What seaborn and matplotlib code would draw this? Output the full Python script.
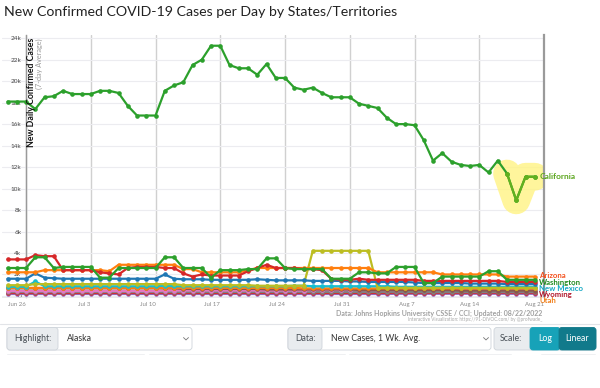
import numpy as np
import pandas as pd
import matplotlib
matplotlib.use('Agg')
import matplotlib.pyplot as plt
import matplotlib.dates as mdates
from matplotlib.patches import FancyBboxPatch
from matplotlib.lines import Line2D
from matplotlib.transforms import ScaledTranslation
import seaborn as sns

# 7-day average of new confirmed cases, in thousands, one value per day Jun 24 .. Aug 20 2022
dates = pd.date_range('2022-06-24', '2022-08-20', freq='D')

california = [18.1, 18.1, 18.1, 17.4, 18.5, 18.6, 19.1,
              18.8, 18.8, 18.8, 19.1, 19.1, 18.9, 17.7,
              16.8, 16.8, 16.8, 19.1, 19.6, 19.9, 21.5,
              22.0, 23.3, 23.3, 21.5, 21.2, 21.2, 20.6,
              21.6, 20.3, 20.3, 19.4, 19.2, 19.4, 18.9,
              18.5, 18.5, 18.5, 17.9, 17.7, 17.5, 16.6,
              16.0, 16.0, 15.9, 14.5, 12.6, 13.3, 12.5,
              12.2, 12.1, 12.2, 11.5, 12.6, 11.4, 8.9,
              11.1, 11.1]
colorado = [3.4, 3.4, 3.4, 3.8, 3.7, 3.7, 2.4,
            2.4, 2.4, 2.4, 2.2, 2.1, 2.0, 2.6,
            2.7, 2.7, 2.7, 2.6, 2.6, 2.1, 1.8,
            2.0, 1.9, 1.9, 1.9, 1.9, 2.3, 2.6,
            2.9, 2.6, 2.6, 2.6, 2.5, 2.5, 2.4,
            1.6, 1.5, 1.5, 1.6, 1.5, 1.5, 1.5,
            1.5, 1.5, 1.5, 1.4, 1.4, 1.4, 1.4,
            1.4, 1.4, 1.4, 1.4, 1.4, 1.3, 1.3,
            1.3, 1.3]
washington = [2.6, 2.6, 2.6, 3.6, 3.6, 2.6, 2.7,
              2.7, 2.7, 2.7, 1.7, 1.7, 2.6, 2.6,
              2.6, 2.6, 2.6, 3.6, 3.6, 2.6, 2.6,
              2.6, 1.7, 2.4, 2.4, 2.4, 2.5, 2.5,
              3.5, 3.5, 2.6, 2.5, 2.5, 2.5, 2.5,
              1.6, 1.6, 1.6, 2.2, 2.2, 2.1, 2.1,
              2.7, 2.7, 2.7, 1.2, 1.2, 1.8, 1.8,
              1.8, 1.8, 1.8, 2.3, 2.3, 1.5, 1.5,
              1.5, 1.5]
arizona = [2.2, 2.2, 2.2, 2.2, 2.4, 2.4, 2.4,
           2.4, 2.4, 2.4, 2.4, 2.3, 2.9, 2.9,
           2.9, 2.9, 2.9, 2.9, 2.9, 2.5, 2.5,
           2.2, 2.2, 2.2, 2.2, 2.2, 2.4, 2.6,
           2.6, 2.6, 2.6, 2.6, 2.6, 2.6, 2.6,
           2.6, 2.6, 2.6, 2.6, 2.6, 2.2, 2.2,
           2.2, 2.2, 2.2, 2.2, 2.2, 2.0, 2.0,
           2.0, 2.0, 2.0, 2.0, 2.0, 1.8, 1.8,
           1.8, 1.8]
oregon = [1.6, 1.6, 1.6, 2.1, 1.7, 1.65, 1.6,
          1.6, 1.6, 1.6, 1.6, 1.6, 1.6, 1.6,
          1.6, 1.6, 1.6, 2.0, 1.6, 1.55, 1.55,
          1.55, 1.5, 1.5, 1.5, 1.5, 1.5, 1.55,
          1.5, 1.45, 1.45, 1.45, 1.45, 1.4, 1.4,
          1.4, 1.4, 1.35, 1.35, 1.3, 1.3, 1.3,
          1.3, 1.3, 1.25, 1.2, 1.2, 1.2, 1.2,
          1.2, 1.15, 1.15, 1.15, 1.15, 1.1, 1.1,
          1.1, 1.1]
hawaii = [1.0, 1.0, 1.0, 1.1, 1.1, 1.1, 1.1,
          1.1, 1.1, 1.1, 1.1, 1.1, 1.1, 1.1,
          1.1, 1.1, 1.1, 1.1, 1.1, 1.0, 1.0,
          1.0, 1.0, 1.0, 1.0, 1.0, 1.0, 0.95,
          0.95, 0.95, 0.95, 0.95, 0.95, 4.2, 4.2,
          4.2, 4.2, 4.2, 4.2, 4.2, 0.75, 0.75,
          0.75, 0.75, 0.75, 0.75, 0.75, 0.75, 0.75,
          0.75, 0.75, 0.75, 0.75, 0.75, 0.75, 0.75,
          0.75, 0.75]
new_mexico = [0.85, 0.85, 0.85, 1.35, 0.9, 0.9, 0.9,
              0.9, 0.9, 0.9, 0.9, 0.9, 0.9, 0.9,
              0.9, 0.9, 0.9, 0.95, 0.9, 0.9, 0.9,
              0.9, 0.9, 0.9, 0.9, 0.9, 0.9, 0.9,
              0.9, 0.9, 0.9, 0.95, 0.95, 0.9, 0.9,
              0.9, 0.9, 0.9, 0.9, 0.9, 0.9, 0.9,
              0.85, 0.85, 0.85, 0.85, 0.85, 0.85, 0.85,
              0.85, 0.85, 0.85, 0.85, 0.85, 0.85, 0.85,
              0.85, 0.85]
nevada = [0.7, 0.7, 0.7, 0.7, 0.7, 0.7, 0.7,
          0.7, 0.7, 0.7, 0.7, 0.7, 0.7, 0.7,
          0.7, 0.7, 0.7, 0.7, 0.7, 0.65, 0.65,
          0.65, 0.65, 0.65, 0.65, 0.65, 0.65, 0.65,
          0.6, 0.6, 0.6, 0.6, 0.6, 0.6, 0.6,
          0.6, 0.6, 0.6, 0.55, 0.55, 0.55, 0.55,
          0.55, 0.55, 0.55, 0.55, 0.55, 0.55, 0.55,
          0.5, 0.5, 0.5, 0.5, 0.5, 0.5, 0.5,
          0.5, 0.5]
utah = [0.75, 0.75, 0.75, 0.75, 0.75, 0.75, 0.75,
        0.75, 0.75, 0.75, 0.75, 0.75, 0.75, 0.75,
        0.75, 0.75, 0.75, 0.75, 0.75, 0.75, 0.75,
        0.75, 0.75, 0.75, 0.75, 0.75, 0.75, 0.75,
        0.75, 0.75, 0.75, 0.75, 0.7, 0.7, 0.7,
        0.7, 0.7, 0.7, 0.7, 0.7, 0.7, 0.7,
        0.7, 0.7, 0.7, 0.7, 0.7, 0.7, 0.7,
        0.7, 0.7, 0.7, 0.7, 0.7, 0.7, 0.7,
        0.7, 0.7]
idaho = [0.45, 0.45, 0.45, 0.45, 0.45, 0.45, 0.45,
         0.45, 0.45, 0.45, 0.45, 0.45, 0.45, 0.45,
         0.45, 0.45, 0.45, 0.5, 0.5, 0.5, 0.5,
         0.5, 0.5, 0.5, 0.5, 0.5, 0.5, 0.5,
         0.5, 0.5, 0.5, 0.5, 0.5, 0.55, 0.55,
         0.55, 0.55, 0.55, 0.55, 0.55, 0.55, 0.55,
         0.55, 0.6, 0.6, 0.6, 0.6, 0.6, 0.6,
         0.6, 0.6, 0.6, 0.6, 0.6, 0.6, 0.6,
         0.6, 0.6]
montana = [0.35, 0.35, 0.35, 0.35, 0.35, 0.35, 0.35,
           0.35, 0.35, 0.35, 0.35, 0.35, 0.35, 0.35,
           0.35, 0.35, 0.35, 0.35, 0.35, 0.35, 0.35,
           0.35, 0.35, 0.35, 0.35, 0.35, 0.35, 0.35,
           0.35, 0.35, 0.35, 0.35, 0.35, 0.35, 0.35,
           0.35, 0.35, 0.35, 0.35, 0.35, 0.35, 0.35,
           0.35, 0.35, 0.35, 0.35, 0.35, 0.35, 0.35,
           0.35, 0.35, 0.35, 0.35, 0.35, 0.35, 0.35,
           0.35, 0.35]
wyoming = [0.28, 0.28, 0.28, 0.28, 0.28, 0.28, 0.28,
           0.28, 0.28, 0.28, 0.28, 0.28, 0.28, 0.28,
           0.28, 0.28, 0.28, 0.28, 0.28, 0.28, 0.28,
           0.28, 0.28, 0.28, 0.28, 0.28, 0.28, 0.28,
           0.28, 0.28, 0.28, 0.28, 0.28, 0.28, 0.28,
           0.28, 0.28, 0.28, 0.28, 0.28, 0.28, 0.28,
           0.3, 0.3, 0.3, 0.3, 0.3, 0.3, 0.3,
           0.3, 0.3, 0.3, 0.3, 0.3, 0.3, 0.3,
           0.3, 0.3]
alaska = [0.18, 0.18, 0.18, 0.18, 0.18, 0.18, 0.18,
          0.18, 0.18, 0.18, 0.18, 0.18, 0.18, 0.18,
          0.18, 0.18, 0.18, 0.18, 0.18, 0.18, 0.18,
          0.18, 0.18, 0.18, 0.18, 0.18, 0.18, 0.18,
          0.18, 0.18, 0.18, 0.18, 0.18, 0.18, 0.18,
          0.18, 0.18, 0.18, 0.18, 0.18, 0.18, 0.18,
          0.2, 0.2, 0.2, 0.2, 0.2, 0.2, 0.2,
          0.2, 0.2, 0.2, 0.2, 0.2, 0.2, 0.2,
          0.2, 0.2]

states = ['Alaska', 'Wyoming', 'Montana', 'Idaho', 'Nevada', 'Utah', 'New Mexico',
          'Hawaii', 'Oregon', 'Arizona', 'Colorado', 'Washington', 'California']
series = [alaska, wyoming, montana, idaho, nevada, utah, new_mexico,
          hawaii, oregon, arizona, colorado, washington, california]
palette = {'Alaska': '#9467bd', 'Wyoming': '#d62728', 'Montana': '#7f7f7f',
           'Idaho': '#e377c2', 'Nevada': '#8c564b', 'Utah': '#ff7f0e',
           'New Mexico': '#17becf', 'Hawaii': '#bcbd22', 'Oregon': '#1f77b4',
           'Arizona': '#ff7f0e', 'Colorado': '#d62728', 'Washington': '#2ca02c',
           'California': '#2ca02c'}

df = pd.concat([pd.DataFrame({'date': dates, 'state': s, 'cases': np.array(v) * 1000})
                for s, v in zip(states, series)], ignore_index=True)

sns.set_style('white')
plt.rcParams['font.family'] = ['Lato', 'DejaVu Sans']

W, H = 600, 388
fig = plt.figure(figsize=(6, 3.88), dpi=100)
fig.patch.set_facecolor('white')
ax = fig.add_axes([2 / W, 91 / H, 542 / W, 262 / H])
ax.set_facecolor('white')

# yellow highlight behind the last days of California
ca = df[df.state == 'California']
ax.plot(ca.date.iloc[-4:], ca.cases.iloc[-4:], color='#fff383', lw=20, alpha=0.8,
        solid_capstyle='round', solid_joinstyle='round', zorder=1)

sns.lineplot(data=df, x='date', y='cases', hue='state', hue_order=states, palette=palette,
             marker='o', markersize=3.3, markeredgewidth=0, linewidth=1.6,
             legend=False, ax=ax, zorder=3)
ax.plot(ca.date.iloc[-4:], ca.cases.iloc[-4:], color='#62b01e', lw=1.6, marker='o',
        markersize=3.3, markeredgewidth=0, zorder=4)

jun26 = mdates.date2num(pd.Timestamp('2022-06-26'))
aug21 = mdates.date2num(pd.Timestamp('2022-08-21'))
ax.set_xlim(jun26 - 2.6, aug21)
ax.set_ylim(-100, 24300)

# weekly ticks
week_ticks = pd.date_range('2022-06-26', '2022-08-21', freq='7D')
ax.set_xticks(week_ticks)
ax.set_xticklabels([d.strftime('%b ') + str(d.day) for d in week_ticks])
for lbl in ax.get_xticklabels():
    lbl.set_ha('right')
    lbl.set_transform(lbl.get_transform() + ScaledTranslation(-3 / 100, 0, fig.dpi_scale_trans))
ax.tick_params(axis='x', length=3, width=0.6, color='#bbbbbb', labelsize=4.3,
               labelcolor='#888888', pad=0.5)

yt = np.arange(0, 24001, 2000)
ax.set_yticks(yt)
ax.set_yticklabels(['0' if v == 0 else f'{v // 1000}k' for v in yt])
ax.tick_params(axis='y', length=2.5, width=0.6, color='#999999', labelsize=4.6,
               labelcolor='#444444', pad=1)

ax.grid(axis='y', color='#ececf0', lw=0.8)
ax.grid(axis='x', color='#d0d0d0', lw=1.0)
ax.set_axisbelow(True)
ax.set_xlabel('')
ax.set_ylabel('')
ax.spines['left'].set_position(('data', jun26))
ax.spines['left'].set_color('#9a9a9a')
ax.spines['left'].set_linewidth(1.0)
ax.spines['right'].set_color('#9a9a9a')
ax.spines['right'].set_linewidth(1.6)
ax.spines['top'].set_visible(False)
ax.spines['bottom'].set_color('#e6e6e6')
ax.spines['bottom'].set_linewidth(0.6)

# end-of-line labels (stacked tightly, as in the original)
last = dates[-1] + pd.Timedelta(hours=12)
labels = [('California', 11100, '#5aa51c', 6.0), ('Arizona', 1870, '#f4511e', 5.6),
          ('Washington', 1280, '#1e8a1e', 5.6), ('New Mexico', 690, '#17a9c4', 5.6),
          ('Wyoming', 110, '#b0162b', 5.6), ('Utah', -440, '#f07f1a', 5.6)]
for name, yv, c, fs in labels:
    ax.text(last, yv, name, color=c, fontsize=fs, fontweight='bold', va='center',
            ha='left', clip_on=False, zorder=5)

# title and axis titles
fig.text(4 / W, 1 - 12 / H, 'New Confirmed COVID-19 Cases per Day by States/Territories',
         fontsize=10.2, color='#222222', va='center', ha='left')
fig.text(31 / W, 1 - 38 / H, 'New Daily Confirmed Cases', rotation=90, fontsize=6.3,
         fontweight='bold', color='#111111', ha='center', va='top')
fig.text(39.5 / W, 1 - 38 / H, '(7-day Average)', rotation=90, fontsize=5.2,
         color='#999999', ha='center', va='top')

fig.text(542 / W, 1 - 313 / H, 'Data: Johns Hopkins University CSSE / CCI; Updated: 08/22/2022',
         fontsize=5.0, fontweight='bold', color='#a0a0a0', ha='right', va='center')
fig.text(542 / W, 1 - 319.5 / H, 'Interactive Visualization: https://91-DIVOC.com/ by @profwade_',
         fontsize=3.3, color='#a8a8a8', ha='right', va='center')

fig.add_artist(Line2D([0, 1], [1 - 323.5 / H] * 2, color='#e2e4e8', lw=0.8))


def box(x0, y0, x1, y1, fc, ec='#ced4da'):
    p = FancyBboxPatch((x0 / W, 1 - y1 / H), (x1 - x0) / W, (y1 - y0) / H,
                       boxstyle='round,pad=0,rounding_size=0.005', mutation_aspect=W / H,
                       fc=fc, ec=ec, lw=0.6, transform=fig.transFigure)
    fig.add_artist(p)


def caret(x, y):
    fig.add_artist(Line2D([(x - 2.5) / W, x / W, (x + 2.5) / W],
                          [1 - (y - 1.2) / H, 1 - (y + 1.2) / H, 1 - (y - 1.2) / H],
                          color='#777777', lw=0.6))


ytop, ybot = 327.5, 350
ymid = (ytop + ybot) / 2
box(7, ytop, 192, ybot, 'white')
box(7, ytop, 58, ybot, '#e9ecef')
fig.text(14 / W, 1 - ymid / H, 'Highlight:', fontsize=6.3, color='#495057', va='center')
fig.text(67 / W, 1 - ymid / H, 'Alaska', fontsize=6.3, color='#333333', va='center')
caret(186, ymid)

box(288, ytop, 491, ybot, 'white')
box(288, ytop, 322, ybot, '#e9ecef')
fig.text(295 / W, 1 - ymid / H, 'Data:', fontsize=6.3, color='#495057', va='center')
fig.text(331 / W, 1 - ymid / H, 'New Cases, 1 Wk. Avg.', fontsize=6.3, color='#333333', va='center')
caret(486, ymid)

box(494, ytop, 596, ybot, '#e9ecef')
box(530, ytop, 560, ybot, '#17a2b8', ec='#17a2b8')
box(559, ytop, 596, ybot, '#117a8b', ec='#117a8b')
fig.text(500 / W, 1 - ymid / H, 'Scale:', fontsize=6.3, color='#495057', va='center')
fig.text(545 / W, 1 - ymid / H, 'Log', fontsize=6.3, color='white', va='center', ha='center')
fig.text(577.5 / W, 1 - ymid / H, 'Linear', fontsize=6.3, color='white', va='center', ha='center')

# second row of controls, only their top edges are visible
for x0, x1 in [(7, 144), (149, 345), (349, 511), (541, 595)]:
    fig.add_artist(Line2D([x0 / W, x1 / W], [1 - 354 / H] * 2, color='#eceef0', lw=0.6))

fig.savefig('out.png', dpi=100, facecolor=fig.get_facecolor())
